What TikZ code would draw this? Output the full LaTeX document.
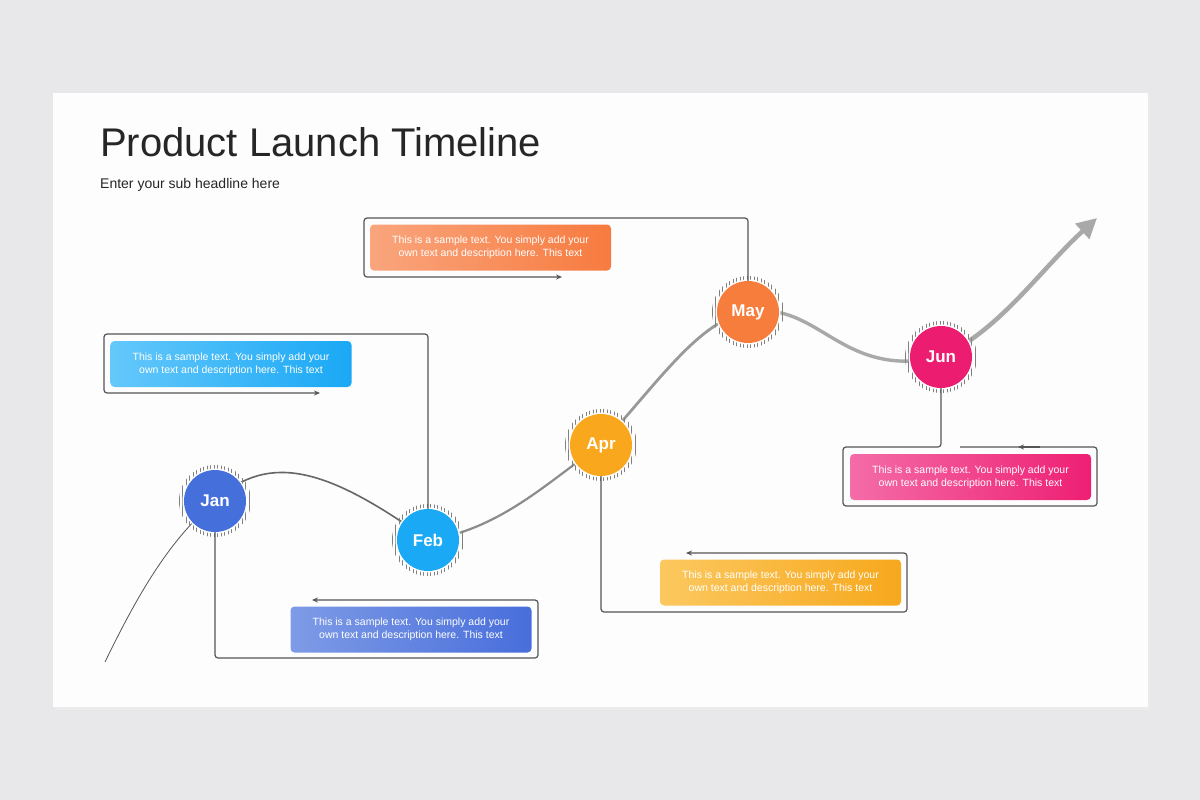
\documentclass[tikz,border=0pt]{standalone}
\usepackage{fontspec}
\setmainfont{Liberation Sans}
\usetikzlibrary{arrows.meta}
\definecolor{bgc}{HTML}{E8E7E9}
\definecolor{card}{HTML}{FDFDFD}
\definecolor{ln}{HTML}{555555}
\definecolor{cv}{HTML}{A9A9A9}
\begin{document}
\begin{tikzpicture}[x=1pt,y=-1pt,
  outl/.style={draw=ln,line width=1.2pt,rounded corners=3pt},
  arr/.style={-{Stealth[length=6pt,width=5pt]}},
  tbox/.style={rounded corners=4pt,minimum width=241pt,minimum height=46pt,inner sep=0pt,text=white,font=\fontsize{10.5}{13}\selectfont,align=center},
  mon/.style={circle,minimum size=62pt,inner sep=0pt,text=white,font=\bfseries\fontsize{17}{17}\selectfont}]
\fill[bgc] (0,0) rectangle (1200,800);
\fill[black!8] (55,96) rectangle (1150,710);
\fill[card] (53,93) rectangle (1148,707);
\node[anchor=base west,text=black!85,font=\fontsize{40}{40}\selectfont,inner sep=0] (title) at (100,156) {Product Launch Timeline};
\node[anchor=base west,text=black!85,font=\fontsize{14}{14}\selectfont,inner sep=0] (sub) at (100,188) {Enter your sub headline here};
% centers
\coordinate (cJan) at (215,501);
\coordinate (cFeb) at (428,540);
\coordinate (cApr) at (601,445);
\coordinate (cMay) at (748,312);
\coordinate (cJun) at (941,357);
\coordinate (start) at (105,662);
\coordinate (tip) at (1097,218);
% curve
\draw[ln,line width=0.8pt] (start) .. controls (140,590) and (170,540) .. (cJan);
\draw[ln!90,line width=1.6pt] (cJan) .. controls (270,450) and (330,470) .. (cFeb);
\draw[black!45,line width=2.2pt] (cFeb) .. controls (500,530) and (550,480) .. (cApr);
\draw[black!40,line width=2.8pt] (cApr) .. controls (660,380) and (700,320) .. (cMay);
\draw[cv,line width=3.4pt] (cMay) .. controls (820,300) and (840,380) .. (cJun);
\draw[cv,line width=4.5pt,-{Triangle[length=20pt,width=20pt]}] (cJun) .. controls (1000,330) and (1040,270) .. (tip);
% hatched rings
\foreach \c in {cJan,cFeb,cApr,cMay,cJun}{
  \begin{scope}
  \clip (\c) circle (36);
  \foreach \i in {-36,-32.5,...,36} \draw[black!50,line width=0.6pt] ([shift={(\i,-40)}]\c) -- ++(0,80);
  \end{scope}
  \fill[card] (\c) circle (32.5);
}
\node[mon,fill={rgb,255:red,69;green,112;blue,220}] (jan) at (cJan) {Jan};
\node[mon,fill={rgb,255:red,26;green,170;blue,245}] (feb) at (cFeb) {Feb};
\node[mon,fill={rgb,255:red,249;green,168;blue,30}] (apr) at (cApr) {Apr};
\node[mon,fill={rgb,255:red,247;green,125;blue,60}] (may) at (cMay) {May};
\node[mon,fill={rgb,255:red,236;green,28;blue,112}] (jun) at (cJun) {Jun};
% connectors
\coordinate (a1) at (562,277);
\draw[outl,arr] (may.north) |- (364,218) |- (a1);
\coordinate (a2) at (320,393);
\draw[outl,arr] (feb.north) |- (104,334) |- (a2);
\coordinate (a3) at (312,600);
\draw[outl,arr] (jan.south) |- (538,658) |- (a3);
\coordinate (a4) at (686,553);
\draw[outl,arr] (apr.south) |- (907,612) |- (a4);
\coordinate (a5) at (1018,447);
\draw[outl] (jun.south) |- (843,447) -- (843,506) -- (1097,506) -- (1097,447) -- (960,447);
\draw[ln,line width=1.2pt,arr] (1040,447) -- (a5);
% boxes
\newcommand{\txt}{This is a sample text. You simply add your\\own text and description here. This text}
\node[tbox,left color={rgb,255:red,249;green,165;blue,125},right color={rgb,255:red,247;green,123;blue,63}] (b1) at (490.5,247.5) {\txt};
\node[tbox,left color={rgb,255:red,100;green,200;blue,251},right color={rgb,255:red,26;green,168;blue,245}] (b2) at (231,364) {\txt};
\node[tbox,left color={rgb,255:red,126;green,155;blue,230},right color={rgb,255:red,72;green,110;blue,219}] (b3) at (411,629.5) {\txt};
\node[tbox,left color={rgb,255:red,251;green,200;blue,95},right color={rgb,255:red,247;green,168;blue,29}] (b4) at (780.5,582.5) {\txt};
\node[tbox,left color={rgb,255:red,244;green,108;blue,168},right color={rgb,255:red,238;green,31;blue,116}] (b5) at (970.5,477) {\txt};
\end{tikzpicture}
\end{document}
